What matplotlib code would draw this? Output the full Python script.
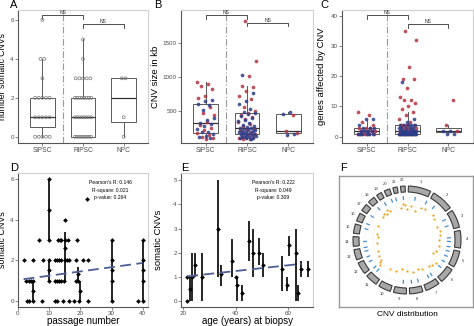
import numpy as np
import matplotlib.pyplot as plt

plt.rcParams['font.family'] = ['Liberation Sans', 'DejaVu Sans']

W, H = 474, 326
RED = '#b3323f'
BLUE = '#2b3d8b'

groups = ['SiPSC', 'RiPSC', 'NPC']

# A: number of somatic CNVs per line
a_sipsc = [0, 0, 0, 0, 0, 1, 1, 1, 1, 1, 2, 2, 2, 2, 2, 3, 4, 4, 6]
a_ripsc = [0, 0, 0, 0, 0, 0, 0, 0, 0, 1, 1, 1, 1, 1, 1, 1, 1,
           2, 2, 2, 2, 2, 2, 2, 2, 3, 3, 3, 3, 3, 4, 5]
a_npc = [0, 1, 3, 3]

# B: CNV size in kb (red / blue = gain / loss)
b_sipsc_red = [925, 895, 860, 820, 720, 690, 560, 470, 440, 340, 290, 255,
               215, 180, 150, 125, 110, 95]
b_sipsc_blue = [660, 640, 605, 590, 520, 400, 365, 320, 305, 275, 235, 200,
                186, 165, 135, 118, 100]
b_ripsc_red = [1810, 1230, 1010, 866, 845, 800, 720, 680, 560, 500, 465, 440,
               410, 380, 335, 305, 275, 250, 240, 220, 200, 185, 170, 150,
               140, 126, 118, 108, 95, 85]
b_ripsc_blue = [1030, 760, 640, 600, 530, 485, 478, 450, 425, 395, 365, 350,
                320, 295, 285, 265, 256, 245, 235, 228, 215, 210, 205, 195,
                190, 180, 175, 165, 162, 158, 145, 135, 130, 122, 115, 112,
                105, 100, 90]
b_npc_red = [440, 214, 180]
b_npc_blue = [480, 460, 170, 145]

# C: genes affected by CNV
c_sipsc_red = [8, 7, 5, 4, 3, 3, 3, 2, 2, 2, 2, 2, 1, 1, 1, 1, 1, 1, 1]
c_sipsc_blue = [6, 6, 4, 3, 3, 3, 2, 2, 2, 2, 1, 1, 1, 1, 1, 1]
c_ripsc_red = [35, 32, 23, 19, 19, 16, 13, 12, 12, 11, 10, 9, 8, 7, 6, 5,
               4, 4, 4, 4, 3, 3, 3, 3, 3, 2, 2, 2, 2, 2, 2,
               1, 1, 1, 1, 1, 1, 1, 1]
c_ripsc_blue = [18, 6, 5, 4, 4, 4, 4, 4, 3, 3, 3, 3, 3,
                2, 2, 2, 2, 2, 2, 2, 2, 2, 2,
                1, 1, 1, 1, 1, 1, 1, 1, 1, 1, 1, 1, 1, 1, 1]
c_npc_red = [12, 4, 2]
c_npc_blue = [2, 2, 1, 1]

# D: somatic CNVs vs passage number
d_pass = [1.8, 4.9, 8.0, 10, 11.8, 12.5, 13.2, 13.9, 15, 15.7, 16.5, 18.6, 20.7, 22.6, 30, 40,
          2.5, 3.4, 4.1, 4.9, 10, 11.8, 12.5, 13.2, 13.9, 14.7, 18.6, 19.4, 30, 40,
          2.8, 3.6, 4.9, 7.8, 11.8, 12.5, 14.4, 16.5, 18.1, 19.7, 22.3, 30, 38.6, 40,
          6.8, 10, 12.8, 13.4, 13.9, 15, 16, 18.9, 30, 40,
          15, 22, 10]
d_cnv = [2] * 16 + [1] * 14 + [0] * 14 + [3] * 10 + [4, 5, 6]
d_bar_x = [4.9, 10, 10, 15, 19.4, 20, 30, 40]
d_bar_mean = [0.5, 4.5, 1.5, 2.6, 1.33, 0.5, 1.5, 1.5]
d_bar_lo = [0, 3, 1, 1, 1, 0, 0, 0]
d_bar_hi = [1, 6, 2, 3.4, 1.67, 1, 3, 3]
d_trend_x = [1.8, 40]
d_trend_y = [1.07, 1.87]
d_stats = ["Pearson's R: 0.146", "R-square: 0.021", "p-value: 0.264"]

# E: somatic CNVs vs age at biopsy
e_age = [21.5, 21.5, 22.4, 23.4, 24.4, 27.0, 33.4, 34.3, 38.8, 40.2, 40.7, 42.4,
         45.0, 46.8, 48.8, 50.3, 57.7, 59.6, 60.4, 63.1, 63.9, 64.9, 67.6]
e_mean = [1.0, 0.0, 0.5, 1.0, 1.5, 1.0, 3.0, 1.1, 1.67, 1.0, 0.67, 0.33,
          2.5, 2.0, 2.0, 1.5, 1.33, 0.67, 2.3, 2.0, 0.33, 1.33, 1.33]
e_lo = [1.0, 0.0, 0.0, 0.0, 1.0, 0.0, 1.0, 0.6, 1.0, 1.0, 0.0, 0.0,
        1.67, 1.0, 1.5, 1.0, 0.4, 0.4, 1.85, 0.0, 0.0, 1.0, 1.0]
e_hi = [1.0, 0.0, 1.0, 2.0, 2.0, 2.0, 5.0, 1.5, 2.55, 1.0, 1.0, 0.67,
        3.3, 3.0, 2.6, 2.0, 1.85, 1.0, 2.7, 3.0, 0.67, 1.67, 1.67]
e_trend_x = [21.5, 65.2]
e_trend_y = [1.02, 1.54]
e_stats = ["Pearson's R: 0.222", "R-square: 0.049", "p-value: 0.309"]

# F: CNV distribution (circos)
chrom_len = [249, 243, 198, 191, 181, 171, 159, 146, 141, 136, 135, 134,
             115, 107, 103, 90, 81, 78, 59, 63, 48, 51]
blue_deg = [355, 11, 27, 39, 62, 71, 87, 92, 99, 105, 112, 120, 129, 145, 150,
            165, 174, 185, 224, 230, 240, 247, 255, 260, 268, 285, 292, 304,
            318, 329, 339, 345]
orange_deg = [326, 330, 322, 354, 357, 350, 6, 24, 30, 46, 52, 66, 74, 82, 90,
              100, 110, 128, 135, 140, 152, 160, 170, 180, 200, 210, 227, 230,
              232, 241, 265, 281, 296, 313, 318, 0, 15, 116, 190, 250, 275]
orange_r = [36, 34, 33, 36, 35, 33, 34, 35, 36, 36, 34, 33, 34, 33, 32,
            33, 31, 37, 36, 34, 33, 31, 32, 31, 33, 34, 37, 35,
            33, 32, 30, 31, 32, 33, 35, 31, 30, 29, 29, 31, 29]


fig = plt.figure(figsize=(W / 100, H / 100), dpi=100)


def px_axes(l, t, r, b, **kw):
    return fig.add_axes([l / W, 1 - b / H, (r - l) / W, (b - t) / H], **kw)


def style(ax):
    for s in ['top', 'right']:
        ax.spines[s].set_color('#cfcfcf')
        ax.spines[s].set_linewidth(0.8)
    for s in ['left', 'bottom']:
        ax.spines[s].set_color('#555555')
        ax.spines[s].set_linewidth(0.8)
    ax.tick_params(labelsize=4.5, length=2, width=0.5, pad=1,
                   colors='#555555', labelcolor='#4d4d4d')


def spread(vals, width=0.2):
    # place points with the same value side by side
    vals = np.asarray(vals, float)
    off = np.zeros(len(vals))
    for v in np.unique(vals):
        idx = np.where(vals == v)[0]
        if len(idx) > 1:
            w = min(width, 0.045 * (len(idx) - 1))
            off[idx] = np.linspace(-w, w, len(idx))
    return off


def jitter(n, k=0, width=0.22):
    return ((np.arange(n) * 0.618034 + k * 0.37) % 1 - 0.5) * 2 * width


def bracket(ax, x1, x2, y, h):
    ax.plot([x1, x1, x2, x2], [y - h, y, y, y - h], color='#333333', lw=0.6)
    ax.text((x1 + x2) / 2, y, 'NS', fontsize=3.6, ha='center', va='bottom', color='#333333')


def boxes(ax, data):
    ax.boxplot(data, positions=[1, 2, 3], widths=0.6, showfliers=False, patch_artist=True,
               boxprops=dict(facecolor='none', edgecolor='#5a5a5a', lw=0.7),
               whiskerprops=dict(color='#5a5a5a', lw=0.7),
               capprops=dict(lw=0),
               medianprops=dict(color='#333333', lw=0.9))
    ax.axvline(1.5, color='#9a9a9a', lw=0.8, ls=(0, (6, 2, 1, 2)))
    ax.set_xlim(0.4, 3.6)
    ax.set_xticks([1, 2, 3])
    ax.set_xticklabels(groups, fontsize=4.8)


# ---- A
ax = px_axes(18, 10, 148, 143)
style(ax)
boxes(ax, [a_sipsc, a_ripsc, a_npc])
for i, d in enumerate([a_sipsc, a_ripsc, a_npc]):
    ax.scatter(i + 1 + spread(d), d, s=4.5, facecolor='none', edgecolor='#777777', lw=0.5, zorder=3)
bracket(ax, 1, 2, 6.26, 0.2)
bracket(ax, 2, 3, 5.8, 0.2)
ax.set_ylim(-0.32, 6.51)
ax.set_yticks([0, 2, 4, 6])
ax.set_ylabel('number somatic CNVs', fontsize=6.2)
ax.yaxis.set_label_coords(-0.081, 0.5)

# ---- B and C
for l, r, red, blue, ylim, yt, lab, lx, br in [
        (181, 313, [b_sipsc_red, b_ripsc_red, b_npc_red],
         [b_sipsc_blue, b_ripsc_blue, b_npc_blue], (32, 1978), [500, 1000, 1500],
         'CNV size in kb', -0.16, [(1905, 55), (1792, 55)]),
        (342, 473, [c_sipsc_red, c_ripsc_red, c_npc_red],
         [c_sipsc_blue, c_ripsc_blue, c_npc_blue], (-2.1, 41.9), [0, 10, 20, 30, 40],
         'genes affected by CNV', -0.125, [(40.2, 1.2), (37.2, 1.2)])]:
    ax = px_axes(l, 10, r, 143)
    style(ax)
    boxes(ax, [red[i] + blue[i] for i in range(3)])
    for i in range(3):
        ax.scatter(i + 1 + jitter(len(red[i]), i), red[i], s=7, color=RED, alpha=0.85,
                   lw=0, zorder=3)
        ax.scatter(i + 1 + jitter(len(blue[i]), i + 5), blue[i], s=7, color=BLUE, alpha=0.85,
                   lw=0, zorder=3)
    bracket(ax, 1, 2, br[0][0], br[0][1])
    bracket(ax, 2, 3, br[1][0], br[1][1])
    ax.set_ylim(*ylim)
    ax.set_yticks(yt)
    ax.set_ylabel(lab, fontsize=6.8)
    ax.yaxis.set_label_coords(lx, 0.5)

# ---- D
ax = px_axes(18, 173, 148, 307)
style(ax)
ax.vlines(d_bar_x, d_bar_lo, d_bar_hi, color='black', lw=1.2)
ax.plot(d_pass, d_cnv, 'D', color='black', ms=2.4, mew=0)
ax.plot(d_bar_x, d_bar_mean, 'D', color='black', ms=2.4, mew=0)
ax.plot(d_trend_x, d_trend_y, color='#4d5f93', lw=1.3, ls=(0, (6, 3)))
for k, s in enumerate(d_stats):
    ax.text(0.71, 0.93 - k * 0.058, s, transform=ax.transAxes, fontsize=3.6,
            ha='center', va='center')
ax.set_xlim(0, 41.7)
ax.set_ylim(-0.3, 6.3)
ax.set_xticks([0, 10, 20, 30, 40])
ax.set_yticks([0, 2, 4, 6])
ax.set_xlabel('passage number', fontsize=7, labelpad=0)
ax.set_ylabel('somatic CNVs', fontsize=6.4)
ax.yaxis.set_label_coords(-0.081, 0.5)

# ---- E
ax = px_axes(181, 173, 313, 307)
style(ax)
ax.vlines(e_age, e_lo, e_hi, color='black', lw=1.2)
ax.plot(e_age, e_mean, 'D', color='black', ms=2.4, mew=0)
ax.plot(e_trend_x, e_trend_y, color='#4d5f93', lw=1.3, ls=(0, (6, 3)))
for k, s in enumerate(e_stats):
    ax.text(0.7, 0.93 - k * 0.058, s, transform=ax.transAxes, fontsize=3.6,
            ha='center', va='center')
ax.set_xlim(19.1, 69.6)
ax.set_ylim(-0.25, 5.3)
ax.set_xticks([20, 40, 60])
ax.set_yticks([0, 1, 2, 3, 4, 5])
ax.set_xlabel('age (years) at biopsy', fontsize=7, labelpad=0)
ax.set_ylabel('somatic CNVs', fontsize=6.8)
ax.yaxis.set_label_coords(-0.136, 0.5)

# ---- F
box = px_axes(339, 176, 473, 307)
box.set_xticks([])
box.set_yticks([])
for s in box.spines.values():
    s.set_color('#9a9a9a')
    s.set_linewidth(1.0)

cx, cy, R = 407, 240, 64
pa = fig.add_axes([(cx - R) / W, 1 - (cy + R) / H, 2 * R / W, 2 * R / H], projection='polar')
pa.set_theta_zero_location('N')
pa.set_theta_direction(-1)
pa.set_facecolor('none')
pa.axis('off')
pa.set_ylim(0, R)

gap = 3.5
scale = (360 - gap * len(chrom_len)) / sum(chrom_len)
start = 1.5
for i, L in enumerate(chrom_len):
    w = L * scale
    mid = start + w / 2
    pa.bar(np.deg2rad(mid), 6, width=np.deg2rad(w), bottom=48, color='#a8a8a8',
           edgecolor='#3a3a3a', lw=0.8)
    pa.text(np.deg2rad(mid), 60, str(i + 1), fontsize=3, ha='center', va='center',
            color='#333333')
    start += w + gap

t = np.linspace(0, 2 * np.pi, 300)
pa.plot(t, np.full_like(t, 42), color='#d7e8f5', lw=0.5, ls=':')
pa.plot(t, np.full_like(t, 34), color='#f7e3a6', lw=0.5, ls=':')
pa.vlines(np.deg2rad(blue_deg), 40, 44, color='#4a8fc9', lw=0.9)
pa.scatter(np.deg2rad(orange_deg), orange_r, s=2.5, color='#e9a21b', lw=0)

fig.text(cx / W, 1 - 315 / H, 'CNV distribution', fontsize=6, ha='center', va='center')

for lab, x, y in [('A', 10, 0), ('B', 154, 0), ('C', 320, 0),
                  ('D', 10, 163), ('E', 181, 163), ('F', 340, 163)]:
    fig.text(x / W, 1 - y / H, lab, fontsize=8, ha='left', va='top')

fig.savefig('out.png', dpi=100)
